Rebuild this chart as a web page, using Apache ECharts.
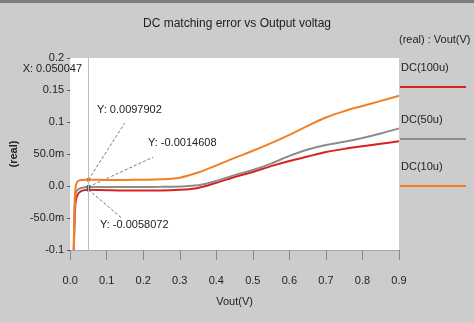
<!DOCTYPE html>
<html><head><meta charset="utf-8">
<script src="https://cdn.jsdelivr.net/npm/echarts@6/dist/echarts.min.js"></script>
<style>html,body{margin:0;padding:0;background:#cccccc}#c{width:474px;height:323px}</style>
</head><body><div id="c"></div>
<script>
const FONT = "'Liberation Sans Narrow','Liberation Sans',Arial,sans-serif";
const titleText = "DC matching error vs Output voltag";
const xName = "Vout(V)";
const yName = "(real)";
const legendTitle = "(real) : Vout(V)";
const seriesNames = ["DC(100u)", "DC(50u)", "DC(10u)"];
const seriesColors = ["#d92121", "#8c8c8c", "#f28022"];
const yTickValues = [-0.1, -0.05, 0, 0.05, 0.1, 0.15, 0.2];
const yTickLabels = ["-0.1", "-50.0m", "0.0", "50.0m", "0.1", "0.15", "0.2"];
const xVals = [0.010, 0.012, 0.015, 0.02, 0.03, 0.05, 0.1, 0.15, 0.2, 0.25, 0.3, 0.35, 0.4, 0.45, 0.5, 0.55, 0.6, 0.65, 0.7, 0.75, 0.8, 0.85, 0.9];
const dc100u = [-0.1, -0.06, -0.025, -0.014, -0.008, -0.0058, -0.0065, -0.007, -0.007, -0.007, -0.006, -0.003, 0.005, 0.014, 0.022, 0.031, 0.039, 0.046, 0.053, 0.058, 0.062, 0.066, 0.070];
const dc50u = [-0.1, -0.045, -0.012, -0.006, -0.003, -0.0015, -0.0015, -0.0015, -0.0015, -0.0013, -0.0008, 0.001, 0.008, 0.017, 0.025, 0.035, 0.047, 0.057, 0.064, 0.069, 0.075, 0.082, 0.090];
const dc10u = [-0.1, -0.03, -0.002, 0.007, 0.0095, 0.0098, 0.0095, 0.0095, 0.0098, 0.0105, 0.013, 0.021, 0.032, 0.044, 0.055, 0.067, 0.080, 0.094, 0.107, 0.117, 0.125, 0.133, 0.141];
const cursorX = 0.050047;
const cursorLabel = "X: 0.050047";
const annY = [0.0097902, -0.0014608, -0.0058072];
const annLabels = ["Y: 0.0097902", "Y: -0.0014608", "Y: -0.0058072"];
const annEnds = [[0.149, 0.098], [0.227, 0.045], [0.141, -0.05]];

const chart = echarts.init(document.getElementById('c'), null, {renderer: 'canvas'});
const allY = [dc100u, dc50u, dc10u];
const series = allY.map((ys, i) => ({
  name: seriesNames[i], type: 'line', showSymbol: false, smooth: 0.3,
  data: xVals.map((x, k) => [x, ys[k]]),
  lineStyle: {color: seriesColors[i], width: 2}, itemStyle: {color: seriesColors[i]},
  z: 3 + i
}));
series.push({
  type: 'line', data: [], silent: true,
  markLine: {
    silent: true, animation: false,
    symbol: ['circle', 'none'], symbolSize: 4,
    label: {show: false},
    lineStyle: {color: '#555', width: 0.8, type: [3, 2]},
    data: annY.map((y, i) => [{coord: [cursorX, y]}, {coord: annEnds[i]}])
  }, z: 8
});
series.push({
  type: 'line', data: [], silent: true,
  markLine: {
    silent: true, animation: false, symbol: ['none', 'none'],
    label: {show: false},
    lineStyle: {color: '#bdbdbd', width: 1, type: 'solid'},
    data: [{xAxis: cursorX}]
  }, z: 2
});

const labelMap = {};
yTickValues.forEach((v, i) => labelMap[v.toFixed(3)] = yTickLabels[i]);

const gfx = [
  {type: 'rect', left: 0, top: 0, shape: {width: 474, height: 3}, style: {fill: '#7d7d7d'}},
  {type: 'text', left: 399, top: 34, style: {text: legendTitle, font: '11px ' + FONT, fill: '#222'}},
  {type: 'text', right: 392, top: 63, style: {text: cursorLabel, font: '11px ' + FONT, fill: '#222', textAlign: 'right'}},
  {type: 'text', left: 97, top: 104, style: {text: annLabels[0], font: '11px ' + FONT, fill: '#222'}},
  {type: 'text', left: 148, top: 137, style: {text: annLabels[1], font: '11px ' + FONT, fill: '#222'}},
  {type: 'text', left: 100, top: 219, style: {text: annLabels[2], font: '11px ' + FONT, fill: '#222'}}
];
const legTops = [62, 114, 161];
seriesNames.forEach((n, i) => {
  gfx.push({type: 'text', left: 401, top: legTops[i], style: {text: n, font: '11px ' + FONT, fill: '#222'}});
  gfx.push({type: 'line', shape: {x1: 400, y1: legTops[i] + 25, x2: 466, y2: legTops[i] + 25}, style: {stroke: seriesColors[i], lineWidth: 2}});
});

chart.setOption({
  animation: false,
  backgroundColor: '#cccccc',
  title: {text: titleText, left: 232, top: 13, textAlign: 'center',
    textStyle: {fontFamily: FONT, fontSize: 12, fontWeight: 'normal', color: '#222'}},
  grid: {left: 66, right: 75, top: 58, bottom: 73, show: true, backgroundColor: '#ffffff', borderWidth: 0},
  xAxis: {type: 'value', min: 0, max: 0.9, interval: 0.1,
    name: xName, nameLocation: 'middle', nameGap: 46,
    nameTextStyle: {fontFamily: FONT, fontSize: 11, color: '#222'},
    axisLine: {show: true, onZero: false, lineStyle: {color: '#a8a8a8', width: 1}},
    axisTick: {show: true, length: 10, lineStyle: {color: '#888'}},
    axisLabel: {fontFamily: FONT, fontSize: 11, color: '#222', margin: 25,
      formatter: v => v.toFixed(1)},
    splitLine: {show: false}},
  yAxis: {type: 'value', min: -0.1, max: 0.2, interval: 0.05,
    name: yName, nameLocation: 'middle', nameGap: 49, nameRotate: 90,
    nameTextStyle: {fontFamily: FONT, fontSize: 11, color: '#222', fontWeight: 'bold'},
    axisLine: {show: false},
    axisTick: {show: true, length: 3, lineStyle: {color: '#555'}},
    axisLabel: {fontFamily: FONT, fontSize: 11, color: '#222', margin: 6,
      formatter: v => labelMap[v.toFixed(3)] || ''},
    splitLine: {show: false}},
  series: series,
  graphic: gfx
});
</script></body></html>
